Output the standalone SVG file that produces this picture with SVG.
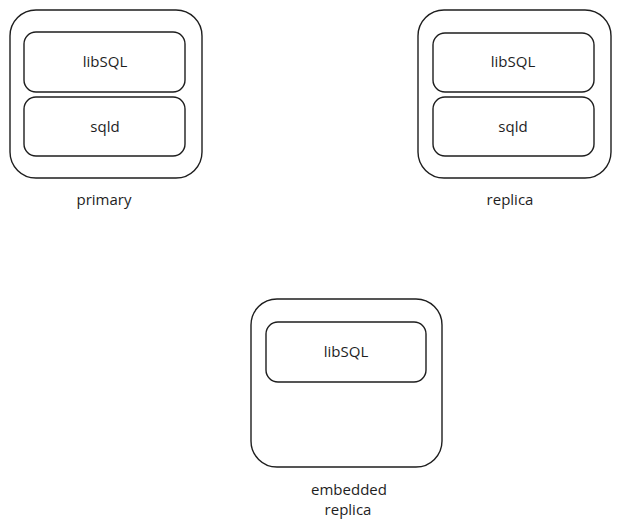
<svg xmlns="http://www.w3.org/2000/svg" width="620" height="528" viewBox="0 0 620 528">
<style>
.outer{fill:#fff;stroke:#1e1e1e;stroke-width:1.4}
.inner{fill:#fff;stroke:#1e1e1e;stroke-width:1.4}
text{font-family:"Open Sans","DejaVu Sans",sans-serif;font-size:15px;fill:#1e1e1e;text-anchor:middle;dominant-baseline:central}
</style>
<rect width="620" height="528" fill="#fff"/>
<g id="primary">
<rect class="outer" x="10" y="10" width="192" height="168" rx="26"/>
<g id="primary-libsql"><rect class="inner" x="24" y="32" width="161" height="60" rx="12"/><text x="105" y="61">libSQL</text></g>
<g id="primary-sqld"><rect class="inner" x="24" y="97" width="161" height="59" rx="12"/><text x="105" y="126">sqld</text></g>
<text x="104" y="199">primary</text>
</g>
<g id="replica">
<rect class="outer" x="418" y="10" width="193" height="168" rx="26"/>
<g id="replica-libsql"><rect class="inner" x="433" y="33" width="161" height="59" rx="12"/><text x="513" y="61">libSQL</text></g>
<g id="replica-sqld"><rect class="inner" x="433" y="97" width="161" height="59" rx="12"/><text x="513" y="126">sqld</text></g>
<text x="510" y="199">replica</text>
</g>
<g id="embedded">
<rect class="outer" x="251" y="299" width="191" height="168" rx="26"/>
<g id="embedded-libsql"><rect class="inner" x="266" y="322" width="160" height="60" rx="12"/><text x="346" y="351">libSQL</text></g>
<text x="349" y="489">embedded</text>
<text x="348" y="509">replica</text>
</g>
<g id="connectors"></g>
</svg>
